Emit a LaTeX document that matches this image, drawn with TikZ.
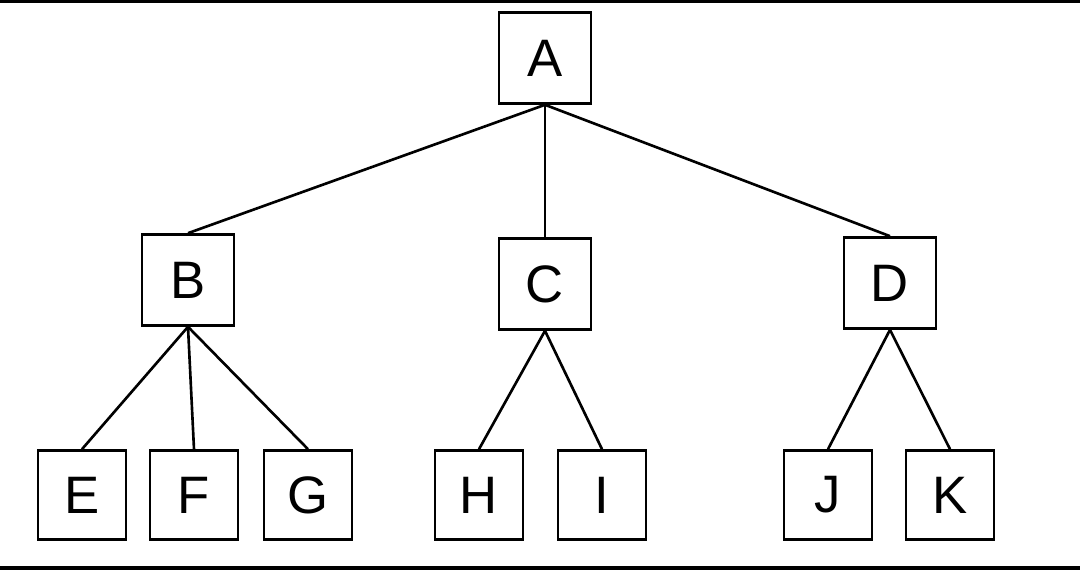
\documentclass[tikz,border=0pt]{standalone}
\usepackage{fontspec}
\setmainfont{Liberation Sans}
\begin{document}
\begin{tikzpicture}[x=0.02cm,y=-0.02cm,
  box/.style={draw,line width=1.5pt,minimum width=1.84cm,minimum height=1.82cm,inner sep=0pt,font=\fontsize{30}{34}\selectfont},
  sbox/.style={box,minimum width=1.76cm,minimum height=1.78cm},
  edge/.style={line width=1.5pt}]
\fill[white] (0,0) rectangle (1080,570);
\useasboundingbox (0,0) rectangle (1080,570);
\fill[black] (0,0) rectangle (1080,3);
\fill[black] (0,566) rectangle (1080,570);
\node[box] (A) at (545,58) {A};
\node[box] (B) at (188,280) {B};
\node[box] (C) at (545,284) {C};
\node[box] (D) at (890,283) {D};
\node[sbox] (E) at (82,495) {E};
\node[sbox] (F) at (194,495) {F};
\node[sbox] (G) at (308,495) {G};
\node[sbox] (H) at (479,495) {H};
\node[sbox] (I) at (602,495) {I};
\node[sbox] (J) at (828,495) {J};
\node[sbox] (K) at (950,495) {K};
\draw[edge] (A.south) -- (B.north);
\draw[edge] (A.south) -- (C.north);
\draw[edge] (A.south) -- (D.north);
\draw[edge] (B.south) -- (E.north);
\draw[edge] (B.south) -- (F.north);
\draw[edge] (B.south) -- (G.north);
\draw[edge] (C.south) -- (H.north);
\draw[edge] (C.south) -- (I.north);
\draw[edge] (D.south) -- (J.north);
\draw[edge] (D.south) -- (K.north);
\end{tikzpicture}
\end{document}
